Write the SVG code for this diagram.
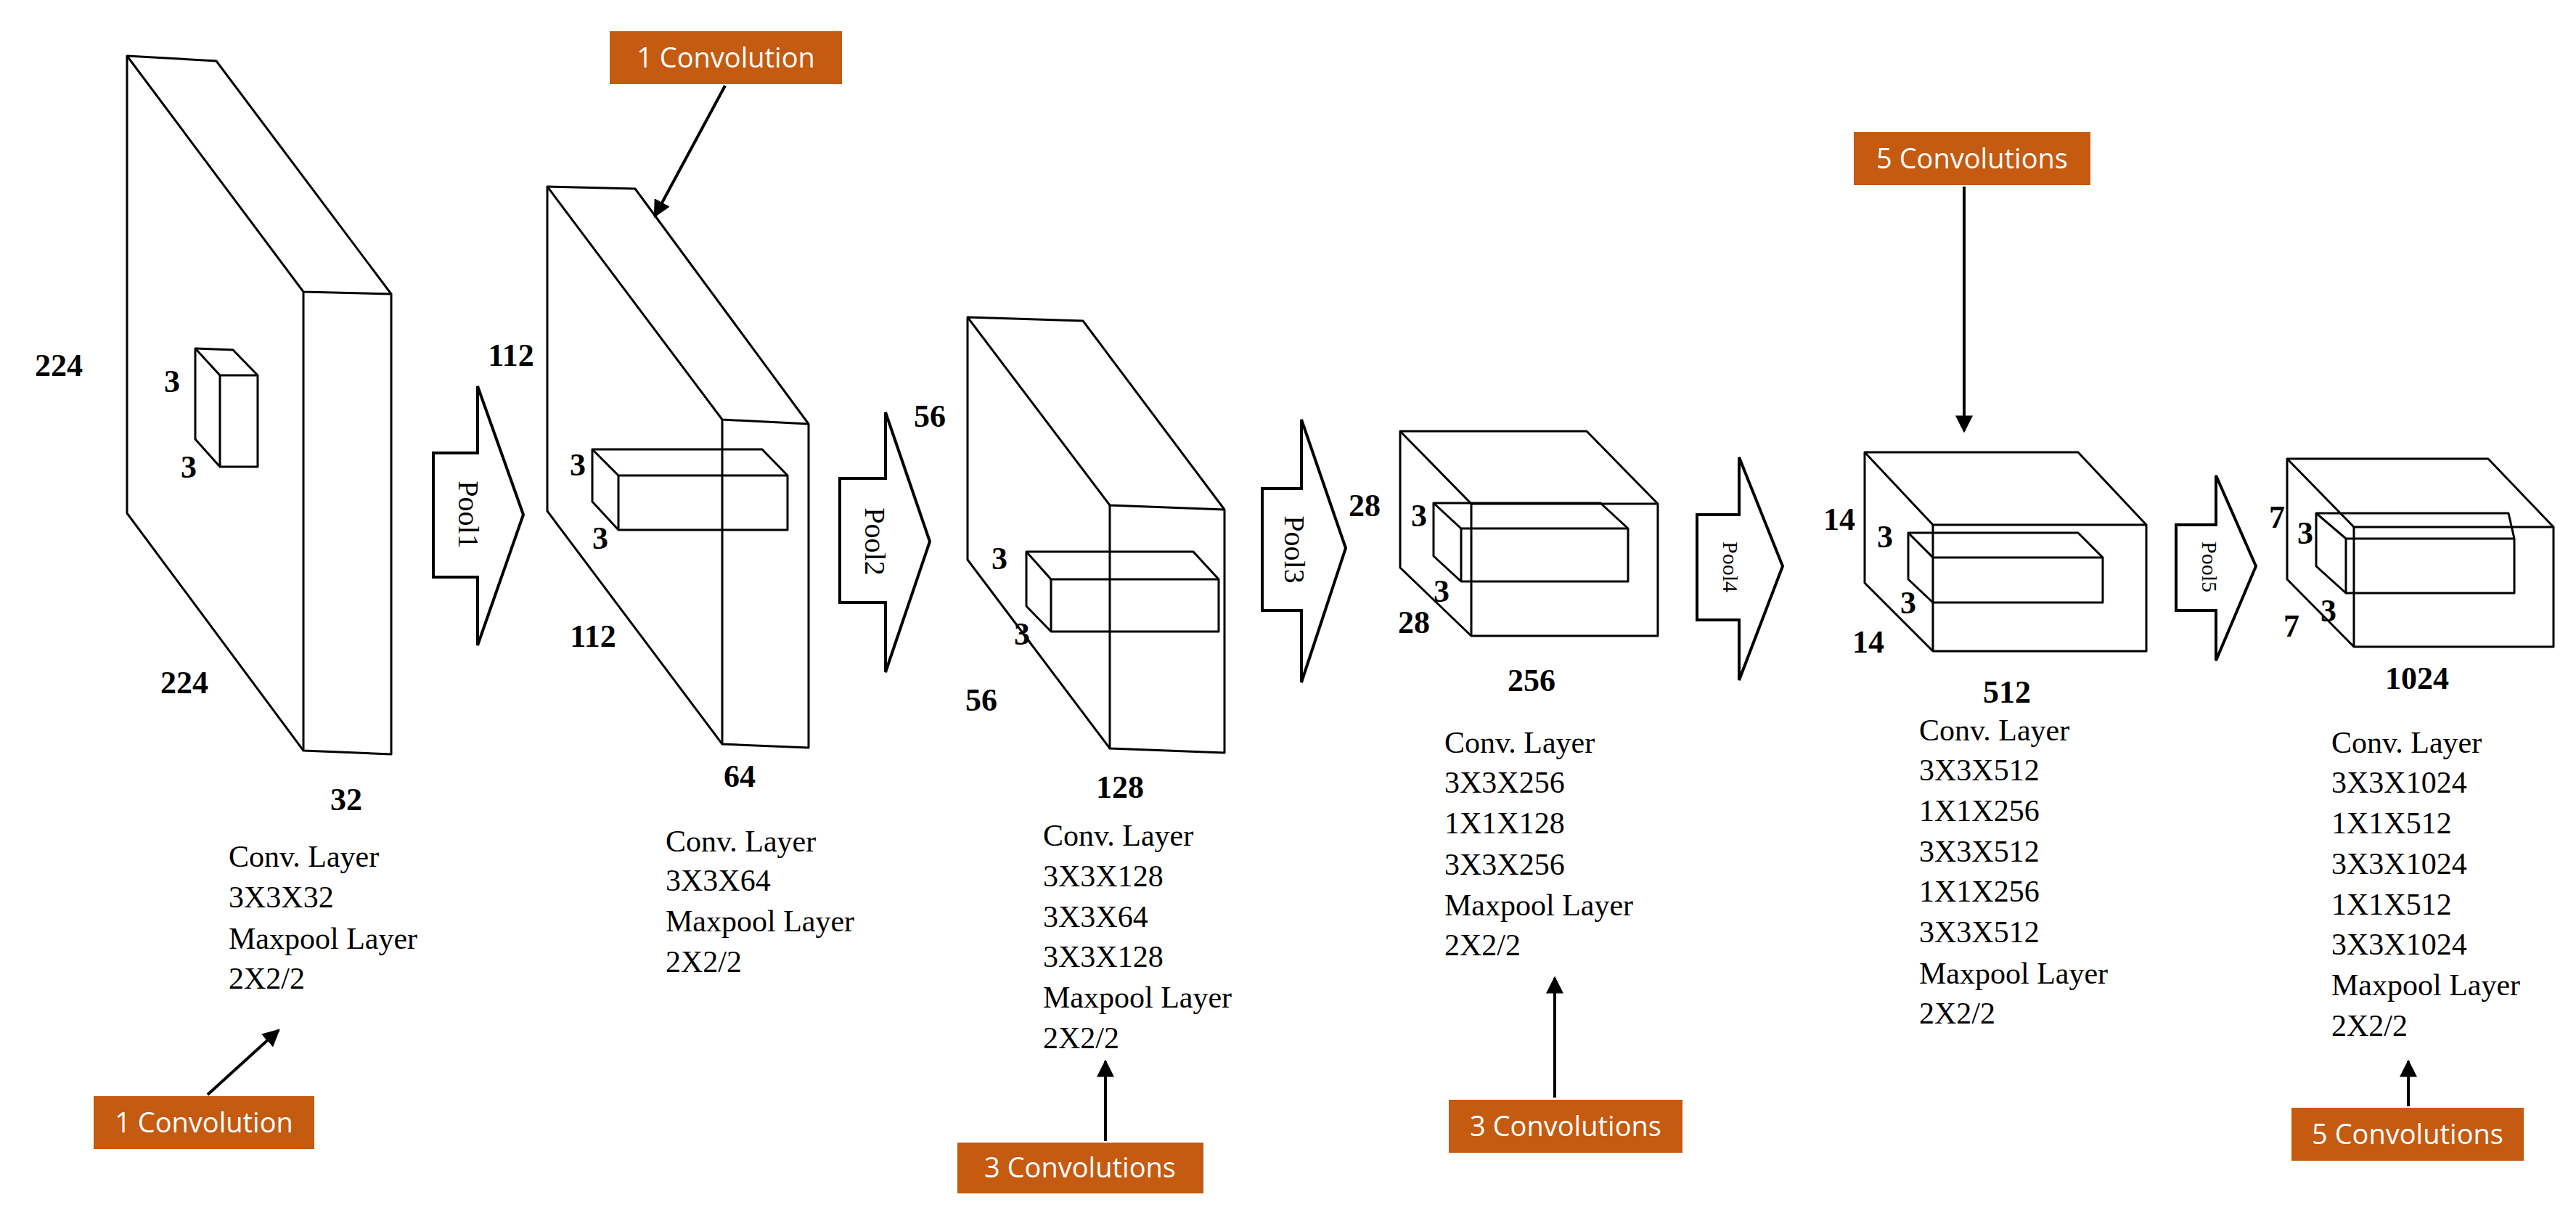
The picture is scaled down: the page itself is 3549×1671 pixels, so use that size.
<svg xmlns="http://www.w3.org/2000/svg" width="3549" height="1671" viewBox="0 0 3549 1671">
<defs>
<marker id="ah" viewBox="0 0 10 10" refX="9" refY="5" markerWidth="6" markerHeight="6" orient="auto-start-reverse"><path d="M0,0 L10,5 L0,10 z" fill="#000"/></marker>
<style>
.s{fill:none;stroke:#000;stroke-width:3;stroke-linejoin:round}
.l{fill:none;stroke:#000;stroke-width:3}
.n{font-family:"Liberation Serif",serif;font-weight:bold;font-size:44px;text-anchor:middle}
.t{font-family:"Liberation Serif",serif;font-size:42px}
.ob{fill:#C55A11}
.ot{font-family:"Open Sans","Liberation Sans",sans-serif;font-size:38px;fill:#fff;text-anchor:middle}
.p{fill:#fff;stroke:#000;stroke-width:4;stroke-linejoin:miter}
.pt{font-family:"Liberation Serif",serif;font-size:40px;text-anchor:middle}
.c{fill:none;stroke:#000;stroke-width:4;marker-end:url(#ah)}
</style>
</defs>
<rect width="3549" height="1671" fill="#fff"/>

<g id="block1">
<polygon class="s" points="175,77 298,84 539,405 539,1039 418,1034 175,707"/>
<polyline class="l" points="175,77 418,402 539,405"/>
<line class="l" x1="418" y1="402" x2="418" y2="1034"/>
<polygon class="s" points="269,480 321,482 355,517 355,643 303,643 269,605"/>
<polyline class="l" points="269,480 303,517 355,517"/>
<line class="l" x1="303" y1="517" x2="303" y2="643"/>
<text class="n" x="81" y="518">224</text>
<text class="n" x="237" y="540">3</text>
<text class="n" x="260" y="658">3</text>
<text class="n" x="254" y="955">224</text>
<text class="n" x="477" y="1116">32</text>
<text class="t" x="315" y="1194">Conv. Layer</text>
<text class="t" x="315" y="1250">3X3X32</text>
<text class="t" x="315" y="1307">Maxpool  Layer</text>
<text class="t" x="315" y="1362">2X2/2</text>
</g>

<g id="pool1">
<polygon class="p" points="597,624 658,624 658,532 721,709 658,889 658,795 597,795"/>
<text class="pt" transform="translate(632,709) rotate(90)">Pool1</text>
</g>

<g id="block2">
<polygon class="s" points="754,257 875,260 1114,584 1114,1030 995,1025 754,704"/>
<polyline class="l" points="754,257 995,578 1114,584"/>
<line class="l" x1="995" y1="578" x2="995" y2="1025"/>
<polygon class="s" points="816,619 1050,619 1085,655 1085,730 852,730 816,691"/>
<polyline class="l" points="816,619 852,655 1085,655"/>
<line class="l" x1="852" y1="655" x2="852" y2="730"/>
<text class="n" x="704" y="504">112</text>
<text class="n" x="796" y="655">3</text>
<text class="n" x="827" y="756">3</text>
<text class="n" x="817" y="891">112</text>
<text class="n" x="1019" y="1084">64</text>
<text class="t" x="917" y="1173">Conv. Layer</text>
<text class="t" x="917" y="1227">3X3X64</text>
<text class="t" x="917" y="1283">Maxpool  Layer</text>
<text class="t" x="917" y="1339">2X2/2</text>
</g>

<g id="pool2">
<polygon class="p" points="1157,659 1220,659 1220,568 1281,746 1220,926 1220,830 1157,830"/>
<text class="pt" transform="translate(1192,746) rotate(90)">Pool2</text>
</g>

<g id="block3">
<polygon class="s" points="1333,437 1492,442 1687,702 1687,1037 1529,1031 1333,771"/>
<polyline class="l" points="1333,437 1529,696 1687,702"/>
<line class="l" x1="1529" y1="696" x2="1529" y2="1031"/>
<polygon class="s" points="1414,760 1644,760 1679,798 1679,870 1448,870 1414,835"/>
<polyline class="l" points="1414,760 1448,798 1679,798"/>
<line class="l" x1="1448" y1="798" x2="1448" y2="870"/>
<text class="n" x="1281" y="588">56</text>
<text class="n" x="1377" y="784">3</text>
<text class="n" x="1408" y="888">3</text>
<text class="n" x="1352" y="979">56</text>
<text class="n" x="1543" y="1099">128</text>
<text class="t" x="1437" y="1165">Conv. Layer</text>
<text class="t" x="1437" y="1221">3X3X128</text>
<text class="t" x="1437" y="1277">3X3X64</text>
<text class="t" x="1437" y="1332">3X3X128</text>
<text class="t" x="1437" y="1388">Maxpool  Layer</text>
<text class="t" x="1437" y="1444">2X2/2</text>
</g>

<g id="pool3">
<polygon class="p" points="1739,673 1793,673 1793,578 1854,755 1793,940 1793,841 1739,841"/>
<text class="pt" transform="translate(1770,757) rotate(90)">Pool3</text>
</g>

<g id="block4">
<polygon class="s" points="1929,594 2186,594 2284,694 2284,876 2027,876 1929,782"/>
<polyline class="l" points="1929,594 2027,694 2284,694"/>
<line class="l" x1="2027" y1="694" x2="2027" y2="876"/>
<polygon class="s" points="1975,693 2205,693 2243,728 2243,801 2013,801 1975,766"/>
<polyline class="l" points="1975,693 2013,728 2243,728"/>
<line class="l" x1="2013" y1="728" x2="2013" y2="801"/>
<text class="n" x="1880" y="711">28</text>
<text class="n" x="1955" y="725">3</text>
<text class="n" x="1986" y="829">3</text>
<text class="n" x="1948" y="872">28</text>
<text class="n" x="2110" y="952">256</text>
<text class="t" x="1990" y="1037">Conv. Layer</text>
<text class="t" x="1990" y="1092">3X3X256</text>
<text class="t" x="1990" y="1148">1X1X128</text>
<text class="t" x="1990" y="1205">3X3X256</text>
<text class="t" x="1990" y="1261">Maxpool  Layer</text>
<text class="t" x="1990" y="1316">2X2/2</text>
</g>

<g id="pool4">
<polygon class="p" points="2338,709 2396,709 2396,630 2456,780 2396,937 2396,854 2338,854"/>
<text class="pt" style="font-size:30px" transform="translate(2374,781) rotate(90)">Pool4</text>
</g>

<g id="block5">
<polygon class="s" points="2569,623 2863,623 2957,723 2957,897 2663,897 2569,803"/>
<polyline class="l" points="2569,623 2663,723 2957,723"/>
<line class="l" x1="2663" y1="723" x2="2663" y2="897"/>
<polygon class="s" points="2629,734 2863,734 2897,768 2897,830 2663,830 2629,798"/>
<polyline class="l" points="2629,734 2663,768 2897,768"/>
<text class="n" x="2534" y="730">14</text>
<text class="n" x="2597" y="754">3</text>
<text class="n" x="2629" y="845">3</text>
<text class="n" x="2574" y="899">14</text>
<text class="n" x="2765" y="968">512</text>
<text class="t" x="2644" y="1020">Conv. Layer</text>
<text class="t" x="2644" y="1075">3X3X512</text>
<text class="t" x="2644" y="1131">1X1X256</text>
<text class="t" x="2644" y="1187">3X3X512</text>
<text class="t" x="2644" y="1242">1X1X256</text>
<text class="t" x="2644" y="1298">3X3X512</text>
<text class="t" x="2644" y="1355">Maxpool  Layer</text>
<text class="t" x="2644" y="1410">2X2/2</text>
</g>

<g id="pool5">
<polygon class="p" points="2998,723 3053,723 3053,655 3108,780 3053,910 3053,841 2998,841"/>
<text class="pt" style="font-size:30px" transform="translate(3034,781) rotate(90)">Pool5</text>
</g>

<g id="block6">
<polygon class="s" points="3151,632 3428,632 3518,726 3518,891 3243,891 3151,798"/>
<polyline class="l" points="3151,632 3243,726 3518,726"/>
<line class="l" x1="3243" y1="726" x2="3243" y2="891"/>
<polygon class="s" points="3191,707 3456,707 3464,742 3464,817 3232,817 3191,780"/>
<polyline class="l" points="3191,707 3232,742 3464,742"/>
<line class="l" x1="3232" y1="742" x2="3232" y2="817"/>
<text class="n" x="3137" y="727">7</text>
<text class="n" x="3176" y="749">3</text>
<text class="n" x="3208" y="856">3</text>
<text class="n" x="3157" y="877">7</text>
<text class="n" x="3330" y="949">1024</text>
<text class="t" x="3212" y="1037">Conv. Layer</text>
<text class="t" x="3212" y="1092">3X3X1024</text>
<text class="t" x="3212" y="1148">1X1X512</text>
<text class="t" x="3212" y="1204">3X3X1024</text>
<text class="t" x="3212" y="1260">1X1X512</text>
<text class="t" x="3212" y="1315">3X3X1024</text>
<text class="t" x="3212" y="1371">Maxpool  Layer</text>
<text class="t" x="3212" y="1427">2X2/2</text>
</g>

<g id="label1a"><rect class="ob" x="129" y="1510" width="304" height="73"/><text class="ot" x="281" y="1560">1 Convolution</text></g>
<g id="label1b"><rect class="ob" x="840" y="43" width="320" height="73"/><text class="ot" x="1000" y="93">1 Convolution</text></g>
<g id="label3a"><rect class="ob" x="1319" y="1574" width="339" height="70"/><text class="ot" x="1488" y="1622">3 Convolutions</text></g>
<g id="label3b"><rect class="ob" x="1996" y="1515" width="322" height="73"/><text class="ot" x="2157" y="1565">3 Convolutions</text></g>
<g id="label5a"><rect class="ob" x="2554" y="182" width="326" height="73"/><text class="ot" x="2717" y="232">5 Convolutions</text></g>
<g id="label5b"><rect class="ob" x="3157" y="1526" width="320" height="73"/><text class="ot" x="3317" y="1576">5 Convolutions</text></g>

<g id="connectors">
<line class="c" x1="286" y1="1508" x2="384" y2="1419"/>
<line class="c" x1="999" y1="118" x2="902" y2="298"/>
<line class="c" x1="1523" y1="1572" x2="1523" y2="1462"/>
<line class="c" x1="2142" y1="1512" x2="2142" y2="1347"/>
<line class="c" x1="2706" y1="257" x2="2706" y2="594"/>
<line class="c" x1="3318" y1="1524" x2="3318" y2="1462"/>
</g>
</svg>
